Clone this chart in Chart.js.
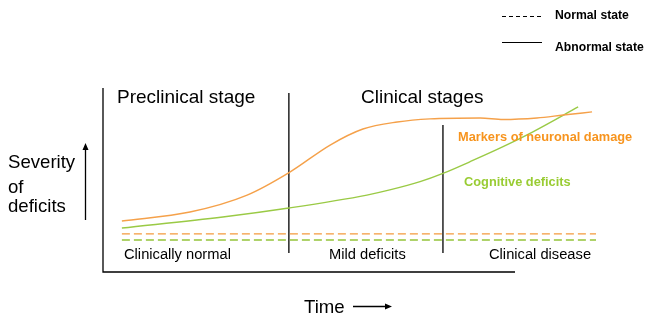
<!DOCTYPE html>
<html>
<head>
<meta charset="utf-8">
<script src="https://cdn.jsdelivr.net/npm/chart.js@4.4.0/dist/chart.umd.min.js"></script>
<style>
  html, body { margin: 0; padding: 0; background: #fff; }
  #wrap { width: 654px; height: 327px; }
</style>
</head>
<body>
<div id="wrap"><canvas id="chart" width="654" height="327"></canvas></div>
<script>
// time axis (0-100) and severity axis (0-100)
const markerTime = [3.8, 17.5, 29.0, 37.6, 45.7, 52.3, 59.2, 65.8, 75.9, 80.5, 87.3, 92.6, 98.4];
const markerSeverity = [27.7, 32.6, 41.8, 54.3, 69.0, 77.7, 81.5, 83.2, 83.7, 82.9, 83.7, 85.3, 87.0];

const cognitiveTime = [3.8, 24.1, 37.4, 53.1, 57.7, 63.8, 68.4, 73.8, 80.5, 86.5, 95.6];
const cognitiveSeverity = [23.9, 29.9, 34.8, 41.8, 44.6, 49.1, 53.6, 59.9, 68.1, 76.2, 89.7];

const normalTime = [3.8, 99.2];
const markerNormal = [20.7, 20.7];
const cognitiveNormal = [17.4, 17.4];

// stage boundaries
const stageBreaks = [37.4, 68.4];
const stageBreakTop = [97.3, 79.9];
const stageBreakBottom = 10.3;
const axisEndTime = 82.9;

const stageTitles = ['Preclinical stage', 'Clinical stages'];
const stageLabels = ['Clinically normal', 'Mild deficits', 'Clinical disease'];

const orange = '#F5A14A';
const green = '#9ACA45';

function pts(xs, ys) {
    return xs.map((x, i) => ({ x: x, y: ys[i] }));
}

const datasets = [
    { data: pts(markerTime, markerSeverity), borderColor: orange, borderWidth: 1.4, cubicInterpolationMode: 'monotone' },
    { data: pts(cognitiveTime, cognitiveSeverity), borderColor: green, borderWidth: 1.4, cubicInterpolationMode: 'monotone' },
    { data: pts(normalTime, markerNormal), borderColor: '#F39A3C', borderWidth: 1.4, borderDash: [8, 4] },
    { data: pts(normalTime, cognitiveNormal), borderColor: '#94C43A', borderWidth: 1.4, borderDash: [8, 4] },
    // axes
    { data: [{ x: 0, y: 100 }, { x: 0, y: 0 }, { x: axisEndTime, y: 0 }], borderColor: '#000', borderWidth: 1.3 }
];
stageBreaks.forEach((t, i) => {
    datasets.push({
        data: [{ x: t, y: stageBreakBottom }, { x: t, y: stageBreakTop[i] }],
        borderColor: '#000', borderWidth: 1.3
    });
});
datasets.forEach(d => { d.pointRadius = 0; d.fill = false; d.clip = false; });

const textPlugin = {
    id: 'texts',
    beforeDraw(chart) {
        const ctx = chart.ctx;
        ctx.save();
        ctx.fillStyle = '#fff';
        ctx.fillRect(0, 0, chart.width, chart.height);
        ctx.restore();
    },
    afterDraw(chart) {
        const ctx = chart.ctx;
        const f = 'Arial, "Liberation Sans", sans-serif';
        ctx.save();
        ctx.textBaseline = 'alphabetic';
        ctx.fillStyle = '#000';

        ctx.font = '19px ' + f;
        ctx.fillText(stageTitles[0], 117, 103);
        ctx.fillText(stageTitles[1], 361, 103);

        ctx.font = '14.7px ' + f;
        ctx.fillText(stageLabels[0], 124, 259);
        ctx.fillText(stageLabels[1], 329, 259);
        ctx.fillText(stageLabels[2], 489, 259);

        ctx.font = 'bold 12.8px ' + f;
        ctx.fillStyle = '#F7941E';
        ctx.fillText('Markers of neuronal damage', 458, 141);
        ctx.fillStyle = '#99CC33';
        ctx.fillText('Cognitive deficits', 464, 186);

        ctx.fillStyle = '#000';
        ctx.font = '18.6px ' + f;
        ctx.fillText('Severity', 8, 168);
        ctx.fillText('of', 8, 193);
        ctx.fillText('deficits', 8, 212);
        ctx.fillText('Time', 304, 313);

        // arrows
        ctx.strokeStyle = '#000';
        ctx.lineWidth = 1.3;
        ctx.beginPath();
        ctx.moveTo(85.5, 220); ctx.lineTo(85.5, 148);
        ctx.moveTo(353, 306.5); ctx.lineTo(387, 306.5);
        ctx.stroke();
        ctx.beginPath();
        ctx.moveTo(85.5, 143); ctx.lineTo(82.5, 150); ctx.lineTo(88.5, 150); ctx.closePath();
        ctx.moveTo(392, 306.5); ctx.lineTo(385, 303.5); ctx.lineTo(385, 309.5); ctx.closePath();
        ctx.fill();

        // legend
        ctx.beginPath();
        ctx.setLineDash([4, 3]);
        ctx.lineWidth = 1;
        ctx.moveTo(502, 16.5); ctx.lineTo(542, 16.5);
        ctx.stroke();
        ctx.setLineDash([]);
        ctx.beginPath();
        ctx.moveTo(502, 42.5); ctx.lineTo(542, 42.5);
        ctx.stroke();
        ctx.font = 'bold 12.2px ' + f;
        ctx.fillText('Normal state', 555, 19);
        ctx.fillText('Abnormal state', 555, 51);
        ctx.restore();
    }
};

new Chart(document.getElementById('chart'), {
    type: 'line',
    data: { datasets: datasets },
    options: {
        responsive: false,
        animation: false,
        devicePixelRatio: 1,
        layout: { padding: { left: 103, right: 54, top: 88, bottom: 55 } },
        scales: {
            x: { type: 'linear', min: 0, max: 100, display: false },
            y: { min: 0, max: 100, display: false }
        },
        plugins: {
            legend: { display: false },
            tooltip: { enabled: false }
        }
    },
    plugins: [textPlugin]
});
</script>
</body>
</html>
